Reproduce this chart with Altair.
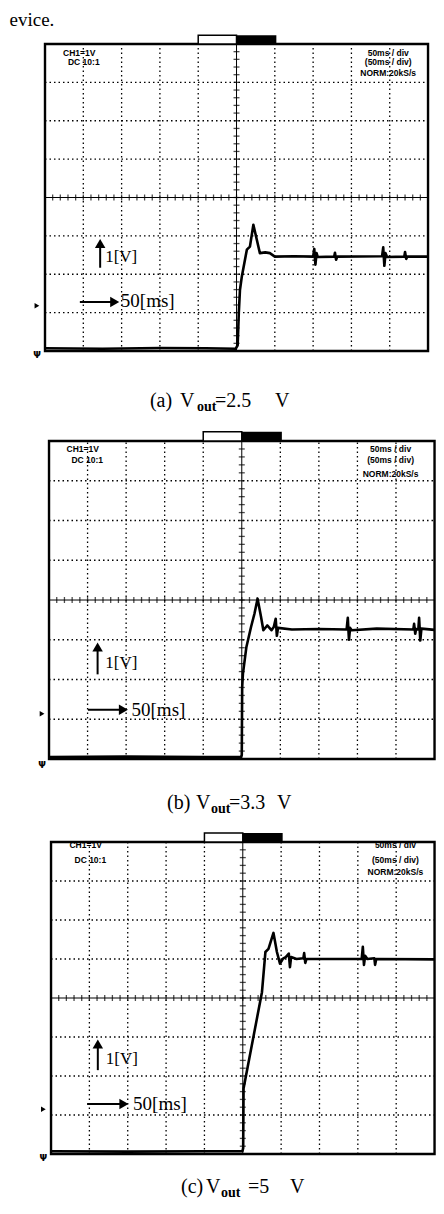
import altair as alt
import pandas as pd

# ---------------- data read from the three scope screens ----------------
# time in ms (50 ms/div, 10 div), voltage in V (1 V/div, ground on the bottom graticule line)
a_t = [0, 75, 150, 210, 249, 251.5, 253, 254.5, 257, 263.5, 267.5, 272, 276.5, 280.5, 287.5,
       293.5, 300, 325, 350, 351.5, 353, 354.5, 356, 377.5, 378.5, 380, 381.5, 440, 441.5, 443,
       444.5, 446.5, 469, 470, 471.5, 473, 500]
a_v = [0.07, 0.06, 0.08, 0.07, 0.06, 0.15, 1.0, 1.59, 1.95, 2.64, 2.72, 3.29, 2.9, 2.55, 2.57,
       2.55, 2.46, 2.47, 2.46, 2.66, 2.25, 2.55, 2.45, 2.46, 2.56, 2.38, 2.46, 2.47, 2.7, 2.22,
       2.55, 2.45, 2.46, 2.58, 2.4, 2.46, 2.46]

b_t = [0, 100, 200, 249, 250, 250.5, 251.5, 256, 262, 266.5, 270.5, 275, 278, 283, 288.5,
       291.5, 294, 295.5, 297, 315, 350, 386, 387.5, 389, 390.5, 392.5, 425, 472.5, 473.5, 475,
       476, 479, 480, 481.5, 483, 500]
b_v = [0.05, 0.06, 0.05, 0.05, 0.1, 1.8, 2.15, 2.82, 3.32, 3.66, 4.03, 3.57, 3.24, 3.36, 3.24,
       3.32, 3.53, 3.1, 3.3, 3.26, 3.27, 3.26, 3.55, 3.0, 3.3, 3.24, 3.28, 3.26, 3.4, 3.15,
       3.27, 3.26, 3.55, 2.98, 3.28, 3.25]

c_t = [0, 100, 200, 249.5, 250.5, 251, 275, 279.5, 283.5, 290, 294.5, 298.5, 302.5, 306, 310,
       311.5, 313, 320, 329, 330, 331.5, 333, 375, 405, 406.5, 408, 409.5, 412.5, 421.5, 422.5,
       424, 500]
c_v = [0.07, 0.06, 0.07, 0.07, 0.15, 1.68, 4.15, 5.18, 5.26, 5.67, 5.18, 4.88, 5.01, 5.05, 5.14,
       4.79, 5.05, 5.0, 5.02, 5.15, 4.9, 5.0, 5.0, 5.0, 5.31, 4.85, 5.08, 5.0, 5.02, 4.85,
       5.0, 4.99]

grid_t = [50, 100, 150, 200, 300, 350, 400, 450]
grid_v = [1, 2, 3, 5, 6, 7]
minor_t = [10 * i for i in range(1, 50)]
minor_v = [round(0.2 * i, 1) for i in range(1, 40)]

ch_label = "CH1=1V"
dc_label = "DC  10:1"
right_labels = ["50ms / div", "(50ms / div)", "NORM:20kS/s"]
letters = ["(a)", "(b)", "(c)"]
vout_values = ["=2.5", "=3.3", "=5"]
volt_label = "1[V]"
time_label = "50[ms]"
lead_text = "evice."

W = 428
SERIF = "Liberation Serif"
SANS = "Liberation Sans"

PANELS = [
    dict(H=416, xdom=[-48.3, 510.4], ydom=[-1.902, 8.938], t=a_t, v=a_v,
         ch=(23.5, 7.77), dc=(30, 7.53), rx=448, rv=[7.77, 7.53, 7.24],
         up=(72, 2.17, 2.76, 2.8), lv=(78.5, 2.45), ra=(45.5, 88, 91, 1.28), lm=(99, 1.31),
         mk=(-10.5, 1.18, -0.1), cv=-1.46, cs=-1.56, cx=[137, 176.2, 198.4, 221.9, 300.3]),
    dict(H=396, xdom=[-53.2, 501.9], ydom=[-1.534, 8.428], t=b_t, v=b_v,
         ch=(22.7, 7.8), dc=(29, 7.52), rx=443, rv=[7.8, 7.52, 7.17],
         up=(63, 2.13, 2.78, 2.82), lv=(73, 2.41), ra=(50.5, 92, 96.5, 1.24), lm=(107, 1.24),
         mk=(-9, 1.14, -0.15), cv=-1.26, cs=-1.36, cx=[153.0, 190.7, 210.1, 233.5, 295.7]),
    dict(H=378, xdom=[-56.1, 501.9], ydom=[-1.128, 8.564], t=c_t, v=c_v,
         ch=(24, 7.92), dc=(30.6, 7.54), rx=449, rv=[7.92, 7.54, 7.23],
         up=(61, 2.15, 2.78, 2.82), lv=(71.5, 2.44), ra=(47, 90, 95, 1.28), lm=(107, 1.28),
         mk=(-10, 1.15, -0.1), cv=-1.0, cs=-1.1, cx=[169.5, 202.1, 221.6, 256.8, 311.6]),
]


def make_panel(i, p):
    xs = alt.Scale(domain=p["xdom"], nice=False, zero=False)
    ys = alt.Scale(domain=p["ydom"], nice=False, zero=False)

    def X(f="t"):
        return alt.X(f, type="quantitative", scale=xs, axis=None)

    def Y(f="v"):
        return alt.Y(f, type="quantitative", scale=ys, axis=None)

    def text_layer(rows, **kw):
        return alt.Chart(pd.DataFrame(rows)).mark_text(**kw).encode(
            x=X(), y=Y(), text="s:N")

    layers = []
    # dotted graticule
    layers.append(alt.Chart(pd.DataFrame({"t": grid_t, "v": 0, "v2": 8})).mark_rule(
        color="black", strokeWidth=1.3, strokeDash=[1.5, 3]).encode(x=X(), y=Y(), y2="v2"))
    layers.append(alt.Chart(pd.DataFrame({"v": grid_v, "t": 0, "t2": 500})).mark_rule(
        color="black", strokeWidth=1.3, strokeDash=[1.5, 3]).encode(y=Y(), x=X(), x2="t2"))
    # centre axes with minor ticks
    layers.append(alt.Chart(pd.DataFrame({"t": [250], "v": [0], "v2": [8]})).mark_rule(
        color="black", strokeWidth=1).encode(x=X(), y=Y(), y2="v2"))
    layers.append(alt.Chart(pd.DataFrame({"v": [4], "t": [0], "t2": [500]})).mark_rule(
        color="black", strokeWidth=1).encode(y=Y(), x=X(), x2="t2"))
    layers.append(alt.Chart(pd.DataFrame({"t": minor_t, "v": 4})).mark_tick(
        orient="vertical", size=6, thickness=1.3, color="black").encode(x=X(), y=Y()))
    layers.append(alt.Chart(pd.DataFrame({"v": minor_v, "t": 250})).mark_tick(
        orient="horizontal", size=6, thickness=1.3, color="black").encode(x=X(), y=Y()))
    # frame
    layers.append(alt.Chart(pd.DataFrame({"t": [0], "t2": [500], "v": [0], "v2": [8]})).mark_rect(
        fillOpacity=0, stroke="black", strokeWidth=2.4).encode(x=X(), x2="t2", y=Y(), y2="v2"))
    # trigger / memory bar above the screen
    layers.append(alt.Chart(pd.DataFrame({"t": [200], "t2": [250], "v": [8], "v2": [8.23]})).mark_rect(
        fill="white", stroke="black", strokeWidth=1.5).encode(x=X(), x2="t2", y=Y(), y2="v2"))
    layers.append(alt.Chart(pd.DataFrame({"t": [250], "t2": [302], "v": [8], "v2": [8.23]})).mark_rect(
        fill="black").encode(x=X(), x2="t2", y=Y(), y2="v2"))
    # waveform
    layers.append(alt.Chart(pd.DataFrame({"t": p["t"], "v": p["v"]})).mark_line(
        color="black", strokeWidth=2.6, strokeJoin="round").encode(x=X(), y=Y()))
    # screen read-outs
    layers.append(text_layer([dict(t=p["ch"][0], v=p["ch"][1], s=ch_label),
                              dict(t=p["dc"][0], v=p["dc"][1], s=dc_label)],
                             font=SANS, fontSize=8.5, fontWeight="bold", align="left",
                             baseline="middle", color="black"))
    layers.append(text_layer([dict(t=p["rx"], v=vv, s=s) for vv, s in zip(p["rv"], right_labels)],
                             font=SANS, fontSize=8.5, fontWeight="bold", align="center",
                             baseline="middle", color="black"))
    # scale arrows
    ux, uy1, uy2, uh = p["up"]
    layers.append(alt.Chart(pd.DataFrame({"t": [ux], "v": [uy1], "v2": [uy2]})).mark_rule(
        color="black", strokeWidth=2).encode(x=X(), y=Y(), y2="v2"))
    layers.append(alt.Chart(pd.DataFrame({"t": [ux], "v": [uh]})).mark_point(
        shape="triangle-up", size=110, filled=True, color="black", opacity=1).encode(x=X(), y=Y()))
    rx1, rx2, rh, ry = p["ra"]
    layers.append(alt.Chart(pd.DataFrame({"t": [rx1], "t2": [rx2], "v": [ry]})).mark_rule(
        color="black", strokeWidth=2).encode(x=X(), x2="t2", y=Y()))
    layers.append(alt.Chart(pd.DataFrame({"t": [rh], "v": [ry]})).mark_point(
        shape="triangle-right", size=110, filled=True, color="black", opacity=1).encode(x=X(), y=Y()))
    layers.append(text_layer([dict(t=p["lv"][0], v=p["lv"][1], s=volt_label)],
                             font=SERIF, fontSize=17, align="left", baseline="middle", color="black"))
    layers.append(text_layer([dict(t=p["lm"][0], v=p["lm"][1], s=time_label)],
                             font=SERIF, fontSize=19, align="left", baseline="middle", color="black"))
    # channel markers on the left edge
    mx, my1, my2 = p["mk"]
    layers.append(alt.Chart(pd.DataFrame({"t": [mx], "v": [my1]})).mark_point(
        shape="triangle-right", size=30, filled=True, color="black", opacity=1).encode(x=X(), y=Y()))
    layers.append(text_layer([dict(t=mx, v=my2, s="Ψ")], font="DejaVu Sans", fontSize=9,
                             fontWeight="bold", align="center", baseline="middle", color="black"))
    # caption
    cx = p["cx"]
    layers.append(text_layer([dict(t=cx[0], v=p["cv"], s=letters[i]),
                              dict(t=cx[1], v=p["cv"], s="V"),
                              dict(t=cx[3], v=p["cv"], s=vout_values[i]),
                              dict(t=cx[4], v=p["cv"], s="V")],
                             font=SERIF, fontSize=20, align="left", baseline="alphabetic",
                             color="black"))
    layers.append(text_layer([dict(t=cx[2], v=p["cs"], s="out")],
                             font=SERIF, fontSize=14, fontWeight="bold", align="left",
                             baseline="alphabetic", color="black"))
    if i == 0:
        # fragment of the preceding page text, kept inside the drawable area
        layers.append(text_layer([dict(t=p["xdom"][0] + 2, v=p["ydom"][1] - 0.07, s=lead_text)],
                                 font=SERIF, fontSize=19, align="left", baseline="top",
                                 color="black"))
    return alt.layer(*layers).properties(width=W, height=p["H"])


chart = alt.vconcat(*[make_panel(i, p) for i, p in enumerate(PANELS)],
                    spacing=0, bounds="flush").properties(
    padding=0, background="white").configure_view(strokeWidth=0)

chart.save("out.html", embed_options={"renderer": "svg", "actions": False})
